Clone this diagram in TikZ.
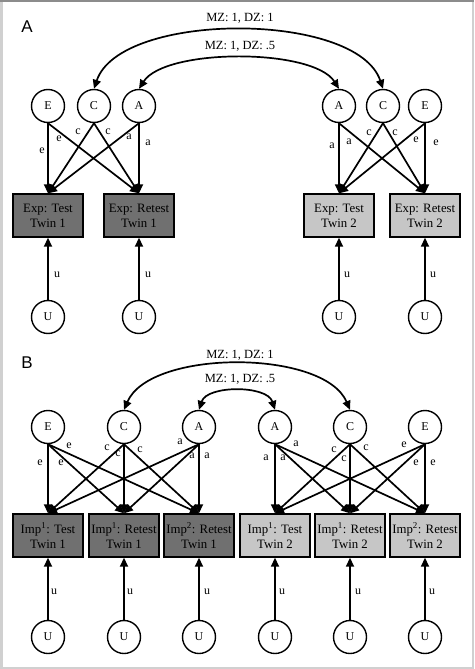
\documentclass[tikz,border=0pt]{standalone}
\usepackage{fontspec}
\setmainfont{Liberation Serif}
\newfontfamily\panelfont{Liberation Sans}
\usetikzlibrary{arrows.meta}
\definecolor{darkbox}{HTML}{707070}
\definecolor{lightbox}{HTML}{C6C6C6}
\definecolor{frametop}{HTML}{8C8C8C}
\definecolor{frameside}{HTML}{D0D0D0}
\begin{document}
\begin{tikzpicture}[x=1pt,y=-1pt,
  latent/.style={circle,draw,line width=1.4pt,minimum size=33pt,inner sep=0pt,font=\fontsize{12}{14}\selectfont},
  obsbox/.style={rectangle,draw,line width=1.4pt,minimum width=70pt,minimum height=43pt,inner sep=0pt,align=center,font=\fontsize{12.8}{15}\selectfont},
  tw1/.style={obsbox,fill=darkbox},
  tw2/.style={obsbox,fill=lightbox},
  path/.style={line width=1.7pt,-{Triangle[length=9pt,width=8pt]}},
  corr/.style={line width=1.7pt,{Triangle[length=9pt,width=8pt]}-{Triangle[length=9pt,width=8pt]}},
  lab/.style={font=\fontsize{12}{14}\selectfont,inner sep=0pt},
  mz/.style={font=\fontsize{12.5}{14}\selectfont,inner sep=0pt},
  panel/.style={font=\panelfont\fontsize{17}{20}\selectfont,inner sep=0pt}]
\useasboundingbox (0,0) rectangle (474,669);
\fill[white] (0,0) rectangle (474,669);
% frame
\fill[frameside] (0,0) rectangle (2.5,669);
\fill[frameside] (471.5,0) rectangle (474,669);
\fill[frameside] (0,666.5) rectangle (474,669);
\fill[frametop] (0,0) rectangle (474,2.5);

% ================= Panel A =================
\node[panel] (pA) at (27,27) {A};
\node[latent] (aE1) at (48,106) {E};
\node[latent] (aC1) at (94,106) {C};
\node[latent] (aA1) at (139,106) {A};
\node[latent] (aA2) at (339,106) {A};
\node[latent] (aC2) at (383,106) {C};
\node[latent] (aE2) at (425,106) {E};

\node[tw1] (aT1) at (48,215.5) {Exp: Test\\Twin 1};
\node[tw1] (aR1) at (139,215.5) {Exp: Retest\\Twin 1};
\node[tw2] (aT2) at (339,215.5) {Exp: Test\\Twin 2};
\node[tw2] (aR2) at (425,215.5) {Exp: Retest\\Twin 2};

\node[latent] (aU1) at (48,317) {U};
\node[latent] (aU2) at (139,317) {U};
\node[latent] (aU3) at (339,317) {U};
\node[latent] (aU4) at (425,317) {U};

\draw[corr] (aC1.north) .. controls (120,11) and (357,11) .. (aC2.north);
\draw[corr] (aA1.north) .. controls (165,48) and (313,48) .. (aA2.north);
\node[mz] (amz1) at (240,18) {MZ: 1, DZ: 1};
\node[mz] (amz2) at (240,46) {MZ: 1, DZ: .5};

\foreach \s in {aE1,aC1,aA1} {
  \draw[path] (\s.south) -- (aT1.north);
  \draw[path] (\s.south) -- (aR1.north);
}
\foreach \s in {aA2,aC2,aE2} {
  \draw[path] (\s.south) -- (aT2.north);
  \draw[path] (\s.south) -- (aR2.north);
}
\draw[path] (aU1.north) -- (aT1.south);
\draw[path] (aU2.north) -- (aR1.south);
\draw[path] (aU3.north) -- (aT2.south);
\draw[path] (aU4.north) -- (aR2.south);

\node[lab] (la1) at (42,151) {e};
\node[lab] (la2) at (59,139) {e};
\node[lab] (la3) at (78,132) {c};
\node[lab] (la4) at (108,132) {c};
\node[lab] (la5) at (129,137) {a};
\node[lab] (la6) at (148,143) {a};
\node[lab] (la7) at (332,146) {a};
\node[lab] (la8) at (349,142) {a};
\node[lab] (la9) at (369,133) {c};
\node[lab] (la10) at (395,133) {c};
\node[lab] (la11) at (416,140) {e};
\node[lab] (la12) at (436,143) {e};
\node[lab] (lau1) at (57,275) {u};
\node[lab] (lau2) at (148,275) {u};
\node[lab] (lau3) at (347,275) {u};
\node[lab] (lau4) at (433,275) {u};

% ================= Panel B =================
\node[panel] (pB) at (27,363) {B};
\node[latent] (bE1) at (48,427) {E};
\node[latent] (bC1) at (124,427) {C};
\node[latent] (bA1) at (199,427) {A};
\node[latent] (bA2) at (275,427) {A};
\node[latent] (bC2) at (350,427) {C};
\node[latent] (bE2) at (425,427) {E};

\node[tw1] (bT1) at (48,535.5) {Imp\textsuperscript{1}: Test\\Twin 1};
\node[tw1] (bR1) at (124,535.5) {Imp\textsuperscript{1}: Retest\\Twin 1};
\node[tw1] (bI1) at (199,535.5) {Imp\textsuperscript{2}: Retest\\Twin 1};
\node[tw2] (bT2) at (275,535.5) {Imp\textsuperscript{1}: Test\\Twin 2};
\node[tw2] (bR2) at (350,535.5) {Imp\textsuperscript{1}: Retest\\Twin 2};
\node[tw2] (bI2) at (425,535.5) {Imp\textsuperscript{2}: Retest\\Twin 2};

\node[latent] (bU1) at (48,637) {U};
\node[latent] (bU2) at (124,637) {U};
\node[latent] (bU3) at (199,637) {U};
\node[latent] (bU4) at (275,637) {U};
\node[latent] (bU5) at (350,637) {U};
\node[latent] (bU6) at (425,637) {U};

\draw[corr] (bC1.north) .. controls (150,349) and (324,349) .. (bC2.north);
\draw[corr] (bA1.north) .. controls (207,385) and (267,385) .. (bA2.north);
\node[mz] (bmz1) at (240,355) {MZ: 1, DZ: 1};
\node[mz] (bmz2) at (240,379) {MZ: 1, DZ: .5};

\foreach \s in {bE1,bC1,bA1} {
  \draw[path] (\s.south) -- (bT1.north);
  \draw[path] (\s.south) -- (bR1.north);
  \draw[path] (\s.south) -- (bI1.north);
}
\foreach \s in {bA2,bC2,bE2} {
  \draw[path] (\s.south) -- (bT2.north);
  \draw[path] (\s.south) -- (bR2.north);
  \draw[path] (\s.south) -- (bI2.north);
}
\draw[path] (bU1.north) -- (bT1.south);
\draw[path] (bU2.north) -- (bR1.south);
\draw[path] (bU3.north) -- (bI1.south);
\draw[path] (bU4.north) -- (bT2.south);
\draw[path] (bU5.north) -- (bR2.south);
\draw[path] (bU6.north) -- (bI2.south);

\node[lab] (lb1) at (69,446) {e};
\node[lab] (lb2) at (40,463) {e};
\node[lab] (lb3) at (61,463) {e};
\node[lab] (lb4) at (107,448) {c};
\node[lab] (lb5) at (118,454) {c};
\node[lab] (lb6) at (140,450) {c};
\node[lab] (lb7) at (180,442) {a};
\node[lab] (lb8) at (192,456) {a};
\node[lab] (lb9) at (207,456) {a};
\node[lab] (lb10) at (266,458) {a};
\node[lab] (lb11) at (283,458) {a};
\node[lab] (lb12) at (296,444) {a};
\node[lab] (lb13) at (334,450) {c};
\node[lab] (lb14) at (344,459) {c};
\node[lab] (lb15) at (366,448) {c};
\node[lab] (lb16) at (404,445) {e};
\node[lab] (lb17) at (416,463) {e};
\node[lab] (lb18) at (433,463) {e};
\node[lab] (lbu1) at (54,592) {u};
\node[lab] (lbu2) at (130,592) {u};
\node[lab] (lbu3) at (207,592) {u};
\node[lab] (lbu4) at (282,592) {u};
\node[lab] (lbu5) at (358,592) {u};
\node[lab] (lbu6) at (432,592) {u};
\end{tikzpicture}
\end{document}
